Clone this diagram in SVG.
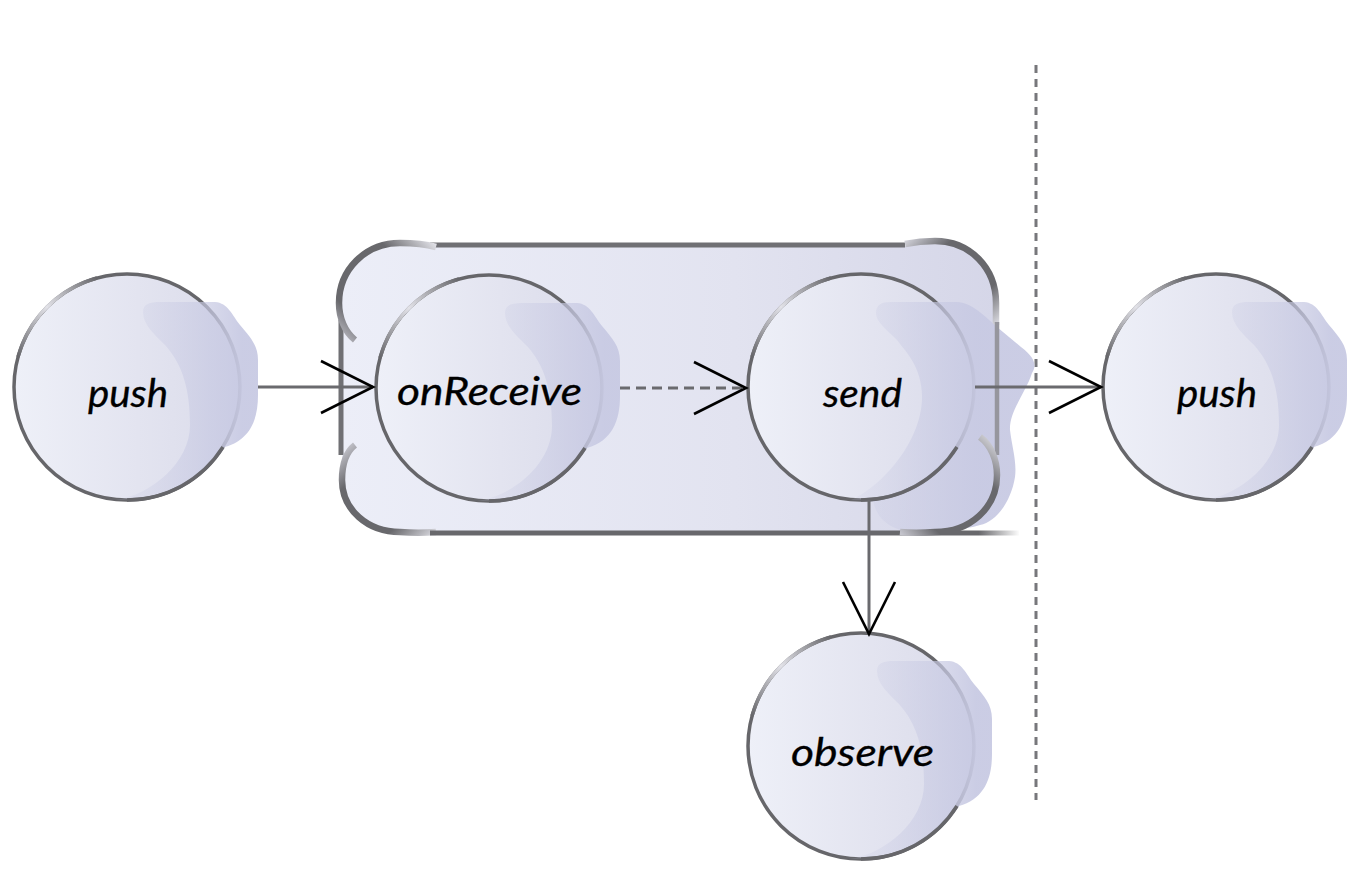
<svg xmlns="http://www.w3.org/2000/svg" width="1358" height="873" viewBox="0 0 1358 873">
<style>
.lbl{font-family:"Lato","Open Sans",sans-serif;font-style:italic;font-size:38px;fill:#000;stroke:#000;stroke-width:.3px;text-anchor:start}
.wire{fill:none;stroke:#6a6a6e;stroke-width:3}
.head{fill:none;stroke:#000;stroke-width:2.6}
.edge{fill:none;stroke:#707074;stroke-width:5}
.corner{fill:none;stroke-width:6.5;stroke-linecap:butt}
</style>
<defs>
<linearGradient id="ballFill" x1="0" y1="0" x2="1" y2="0"><stop offset="0" stop-color="#eef0f8"/><stop offset=".55" stop-color="#e3e4f0"/><stop offset="1" stop-color="#dadbea"/></linearGradient>
<linearGradient id="blobFill" gradientUnits="userSpaceOnUse" x1="-40" y1="0" x2="115" y2="0"><stop offset="0" stop-color="#c8cae3" stop-opacity="0"/><stop offset=".39" stop-color="#c8cae3" stop-opacity=".3"/><stop offset=".65" stop-color="#c8cae3" stop-opacity=".55"/><stop offset="1" stop-color="#c8cae3" stop-opacity=".95"/></linearGradient>
<linearGradient id="boxFill" x1="0" y1="0" x2="1" y2="0"><stop offset="0" stop-color="#eceef8"/><stop offset=".6" stop-color="#e2e3f0"/><stop offset="1" stop-color="#d5d6e8"/></linearGradient>
<linearGradient id="glintA" x1="1" y1="0" x2="0" y2="1"><stop offset="0" stop-color="#e4e4ea"/><stop offset=".28" stop-color="#68686c"/><stop offset=".8" stop-color="#68686c"/><stop offset="1" stop-color="#c4c4cc"/></linearGradient>
<linearGradient id="glintB" x1="0" y1="0" x2="1" y2="1"><stop offset="0" stop-color="#d0d0d8"/><stop offset=".25" stop-color="#68686c"/><stop offset=".75" stop-color="#68686c"/><stop offset="1" stop-color="#d8d8de"/></linearGradient>
<linearGradient id="ringGlint" x1="1" y1="0" x2="0" y2="1"><stop offset="0" stop-color="#66666a"/><stop offset=".5" stop-color="#e2e2e8"/><stop offset="1" stop-color="#66666a"/></linearGradient>
<linearGradient id="tailFade" gradientUnits="userSpaceOnUse" x1="430" y1="0" x2="1020" y2="0"><stop offset="0" stop-color="#68686c"/><stop offset=".93" stop-color="#68686c"/><stop offset="1" stop-color="#68686c" stop-opacity="0"/></linearGradient>
<g id="ring">
<circle r="113" fill="url(#ballFill)" stroke="#66666a" stroke-width="3.5"/>
</g>
<g id="ringFront">
<path d="M-30,-109 A113,113 0 0 0 -109,-30" fill="none" stroke="url(#ringGlint)" stroke-width="3.5"/>
<path d="M96,60 A113,113 0 0 1 0,113" fill="none" stroke="#66666a" stroke-width="3.5"/>
</g>
<path id="blob" fill="url(#blobFill)" d="M16,-75 C16,-83 23,-85 33,-85 L88,-85 C101,-84 105,-72 113,-62 C123,-50 131,-42 131,-27 L131,8 C131,33 123,53 98,60 C78,93 33,113 -12,113 C25,108 63,75 63,38 C63,3 56,-22 38,-42 C28,-52 16,-62 16,-75Z"/>
<marker id="vee" markerUnits="userSpaceOnUse" markerWidth="70" markerHeight="70" refX="62" refY="35" orient="auto" overflow="visible">
<path class="head" d="M10,9 L62,35 L10,61"/>
</marker>
</defs>
<rect width="1358" height="873" fill="#fff"/>
<line x1="1036" y1="65" x2="1036" y2="800" stroke="#77777b" stroke-width="3" stroke-dasharray="8 6"/>
<g id="container">
<path fill="url(#boxFill)" d="M395,246 H905 C915,242 925,241 935,241 C970,241 997,268 997,303 V475 C997,510 970,532 935,532 H395 C365,532 342,510 342,480 V300 C342,270 365,246 395,246Z"/>
<path class="edge" d="M430,245 H905"/>
<path class="edge" d="M341,320 V455"/>
<path class="corner" stroke="url(#glintA)" d="M436,247 C425,244 410,243 400,243 C365,243 339,270 339,303 C339,318 345,332 355,340"/>
<path class="corner" stroke="url(#glintB)" d="M355,445 C346,452 342,465 342,480 C342,510 368,532 400,532 C412,533 425,533 436,532"/>
<path class="corner" stroke="url(#glintB)" d="M905,244 C915,242 925,241 935,241 C970,241 996,268 996,303 L996,325"/>
</g>
<g id="node-push-in" transform="translate(127,387)">
<use href="#ring"/><use href="#blob"/><use href="#ringFront"/>
<text class="lbl" x="-39" y="20" textLength="80" lengthAdjust="spacingAndGlyphs">push</text>
</g>
<g id="node-onreceive" transform="translate(489,388)">
<use href="#ring"/><use href="#blob"/><use href="#ringFront"/>
<text class="lbl" x="-92" y="17" textLength="185" lengthAdjust="spacingAndGlyphs">onReceive</text>
</g>
<g id="node-send" transform="translate(861,387)">
<use href="#ring"/>
<path fill="url(#blobFill)" d="M30,-85 L96,-85 C110,-85 125,-70 136,-60 L160,-40 C176,-28 175,-20 171,-14 C165,5 148,25 149,43 C151,60 156,75 154,90 C150,115 135,135 119,138 C95,145 60,148 39,143 C25,138 15,130 12,113 L-10,113 C20,100 61,55 61,10 C61,-20 45,-35 36,-47 C25,-58 15,-65 15,-74 C15,-82 20,-85 30,-85Z"/>
<use href="#ringFront"/>
<text class="lbl" x="-38" y="20" textLength="79" lengthAdjust="spacingAndGlyphs">send</text>
</g>
<g id="container-front">
<path d="M997,322 V455" fill="none" stroke="#96969e" stroke-width="4.5"/>
<path d="M430,533 H1019" fill="none" stroke="url(#tailFade)" stroke-width="5"/>
<path class="corner" stroke="url(#glintA)" d="M980,437 C991,445 997,460 997,475 C997,508 970,532 935,532 C922,533 910,533 900,532"/>
</g>
<g id="node-push-out" transform="translate(1216,387)">
<use href="#ring"/><use href="#blob"/><use href="#ringFront"/>
<text class="lbl" x="-39" y="20" textLength="80" lengthAdjust="spacingAndGlyphs">push</text>
</g>
<g id="node-observe" transform="translate(861,746)">
<use href="#ring"/><use href="#blob"/><use href="#ringFront"/>
<text class="lbl" x="-70" y="20" textLength="143" lengthAdjust="spacingAndGlyphs">observe</text>
</g>
<g id="connectors">
<path class="wire" marker-end="url(#vee)" d="M258,387 H373"/>
<path class="wire" marker-end="url(#vee)" stroke-dasharray="10 6" d="M620,388 H746"/>
<path class="wire" marker-end="url(#vee)" d="M975,387 H1101"/>
<path class="wire" marker-end="url(#vee)" d="M869,500 V634"/>
</g>
</svg>
